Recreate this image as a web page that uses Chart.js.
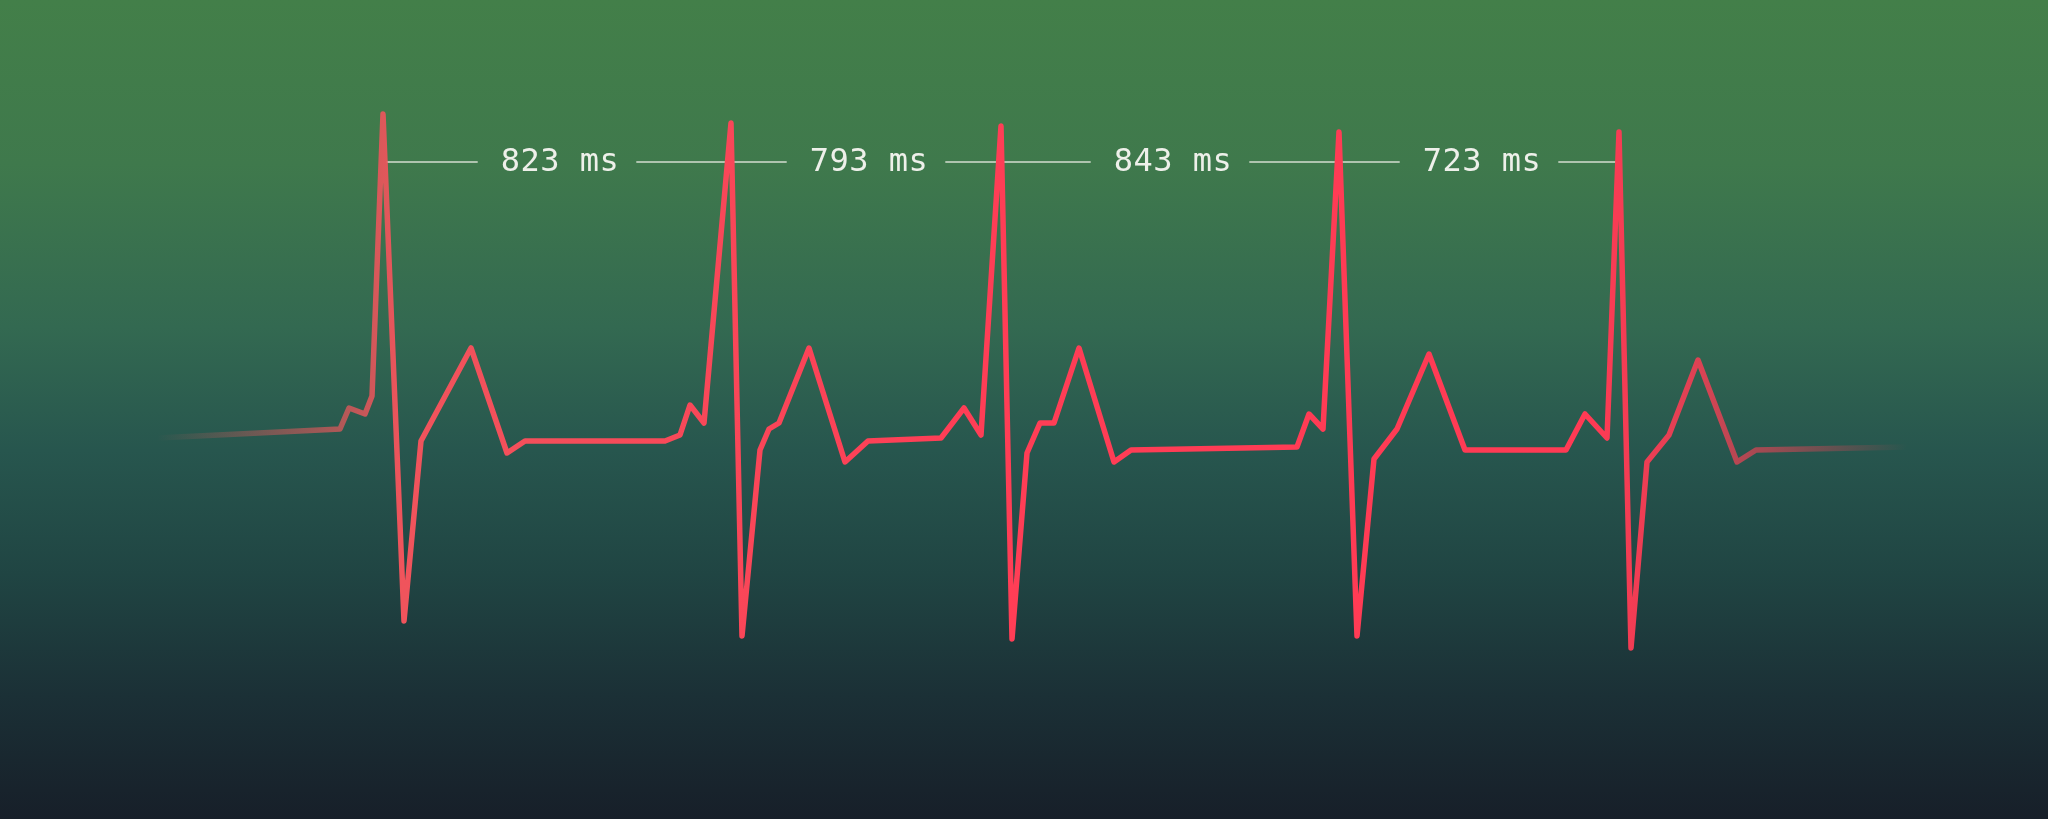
<!DOCTYPE html>
<html>
<head>
<meta charset="utf-8">
<title>ECG R-R intervals</title>
<script src="https://cdn.jsdelivr.net/npm/chart.js@4"></script>
<style>
    html, body { margin: 0; padding: 0; background: #17202a; }
    #wrap { width: 2048px; height: 819px; position: relative; }
</style>
</head>
<body>
<div id="wrap"><canvas id="ecgChart"></canvas></div>
<script>
// sample times (ms) and voltages (mV)
const ecgTime = [
    157, 340, 349, 365, 372, 383, 404, 421, 471, 507, 525,
    665, 680, 690, 704, 731, 742, 760, 769, 779, 809, 845, 868,
    941, 964, 981, 1001, 1012, 1027, 1040, 1054, 1079, 1114, 1131,
    1297, 1309, 1323, 1339, 1357, 1374, 1397, 1429, 1465,
    1566, 1585, 1607, 1619, 1631, 1647, 1669, 1698, 1737, 1756, 1907,
]
const ecgVoltage = [
    0.02, 0.05, 0.12, 0.10, 0.16, 1.10, -0.59, 0.01, 0.32, -0.03, 0.01,
    0.01, 0.03, 0.13, 0.07, 1.07, -0.64, -0.02, 0.05, 0.07, 0.32, -0.06, 0.01,
    0.02, 0.12, 0.03, 1.06, -0.65, -0.03, 0.07, 0.07, 0.32, -0.06, -0.02,
    -0.01, 0.10, 0.05, 1.04, -0.64, -0.05, 0.05, 0.30, -0.02,
    -0.02, 0.10, 0.02, 1.04, -0.68, -0.06, 0.03, 0.28, -0.06, -0.02, -0.01,
]
// R-R intervals shown between consecutive R peaks
const rrIntervals = [823, 793, 843, 723]

const R_THRESHOLD = 0.8
const LABEL_LEVEL = 0.94

function rPeaks() {
    return ecgTime.filter((t, i) => ecgVoltage[i] > R_THRESHOLD)
}

const backgroundPlugin = {
    id: 'background',
    beforeDraw(chart) {
        const { ctx, width, height } = chart
        const g = ctx.createLinearGradient(0, 0, 0, height)
        g.addColorStop(0, '#437f49')
        g.addColorStop(0.2, '#3f794c')
        g.addColorStop(0.4, '#336951')
        g.addColorStop(0.55, '#27564e')
        g.addColorStop(0.7, '#204543')
        g.addColorStop(0.85, '#1b3036')
        g.addColorStop(1, '#171f29')
        ctx.save()
        ctx.fillStyle = g
        ctx.fillRect(0, 0, width, height)
        ctx.restore()
    },
}

const intervalPlugin = {
    id: 'intervals',
    beforeDatasetsDraw(chart) {
        const { ctx, scales } = chart
        const peaks = rPeaks()
        const y = scales.y.getPixelForValue(LABEL_LEVEL)
        ctx.save()
        ctx.font = '32px "DejaVu Sans Mono", monospace'
        ctx.letterSpacing = '0.5px'
        ctx.textAlign = 'center'
        ctx.textBaseline = 'middle'
        rrIntervals.forEach((ms, i) => {
            const x0 = scales.x.getPixelForValue(peaks[i])
            const x1 = scales.x.getPixelForValue(peaks[i + 1])
            const mid = (x0 + x1) / 2
            const label = `${ms} ms`
            const half = ctx.measureText(label).width / 2 + 20
            ctx.strokeStyle = 'rgba(214, 222, 208, 0.75)'
            ctx.lineWidth = 2
            ctx.beginPath()
            ctx.moveTo(x0 + 3, y)
            ctx.lineTo(mid - half, y)
            ctx.moveTo(mid + half, y)
            ctx.lineTo(x1 - 3, y)
            ctx.stroke()
            ctx.fillStyle = '#eef0ea'
            ctx.fillText(label, mid + 3, y + 1)
        })
        ctx.restore()
    },
}

function traceColor(context) {
    const { chart } = context
    const { ctx, chartArea, scales } = chart
    if (!chartArea) return '#ff3c55'
    const px = t => scales.x.getPixelForValue(t)
    const left = px(ecgTime[0])
    const right = px(ecgTime[ecgTime.length - 1])
    const g = ctx.createLinearGradient(left, 0, right, 0)
    g.addColorStop(0, 'rgba(214, 92, 92, 0)')
    g.addColorStop(0.1, 'rgba(222, 88, 90, 0.7)')
    g.addColorStop(0.14, 'rgba(240, 84, 92, 1)')
    g.addColorStop(0.45, 'rgba(255, 62, 86, 1)')
    g.addColorStop(0.82, 'rgba(255, 58, 84, 1)')
    g.addColorStop(0.88, 'rgba(232, 64, 84, 0.95)')
    g.addColorStop(0.93, 'rgba(212, 70, 84, 0.6)')
    g.addColorStop(1, 'rgba(200, 72, 84, 0)')
    return g
}

new Chart(document.getElementById('ecgChart'), {
    type: 'line',
    data: {
        datasets: [{
            label: 'ECG',
            data: ecgTime.map((t, i) => ({ x: t, y: ecgVoltage[i] })),
            borderColor: traceColor,
            borderWidth: 5.5,
            borderJoinStyle: 'round',
            borderCapStyle: 'round',
            pointRadius: 0,
            tension: 0,
            fill: false,
        }],
    },
    options: {
        responsive: true,
        maintainAspectRatio: false,
        animation: false,
        layout: { padding: 0 },
        plugins: {
            legend: { display: false },
            tooltip: { enabled: false },
        },
        scales: {
            x: { type: 'linear', min: 0, max: 2048, display: false },
            y: { min: -1.25, max: 1.48, display: false },
        },
    },
    plugins: [backgroundPlugin, intervalPlugin],
})
</script>
</body>
</html>
